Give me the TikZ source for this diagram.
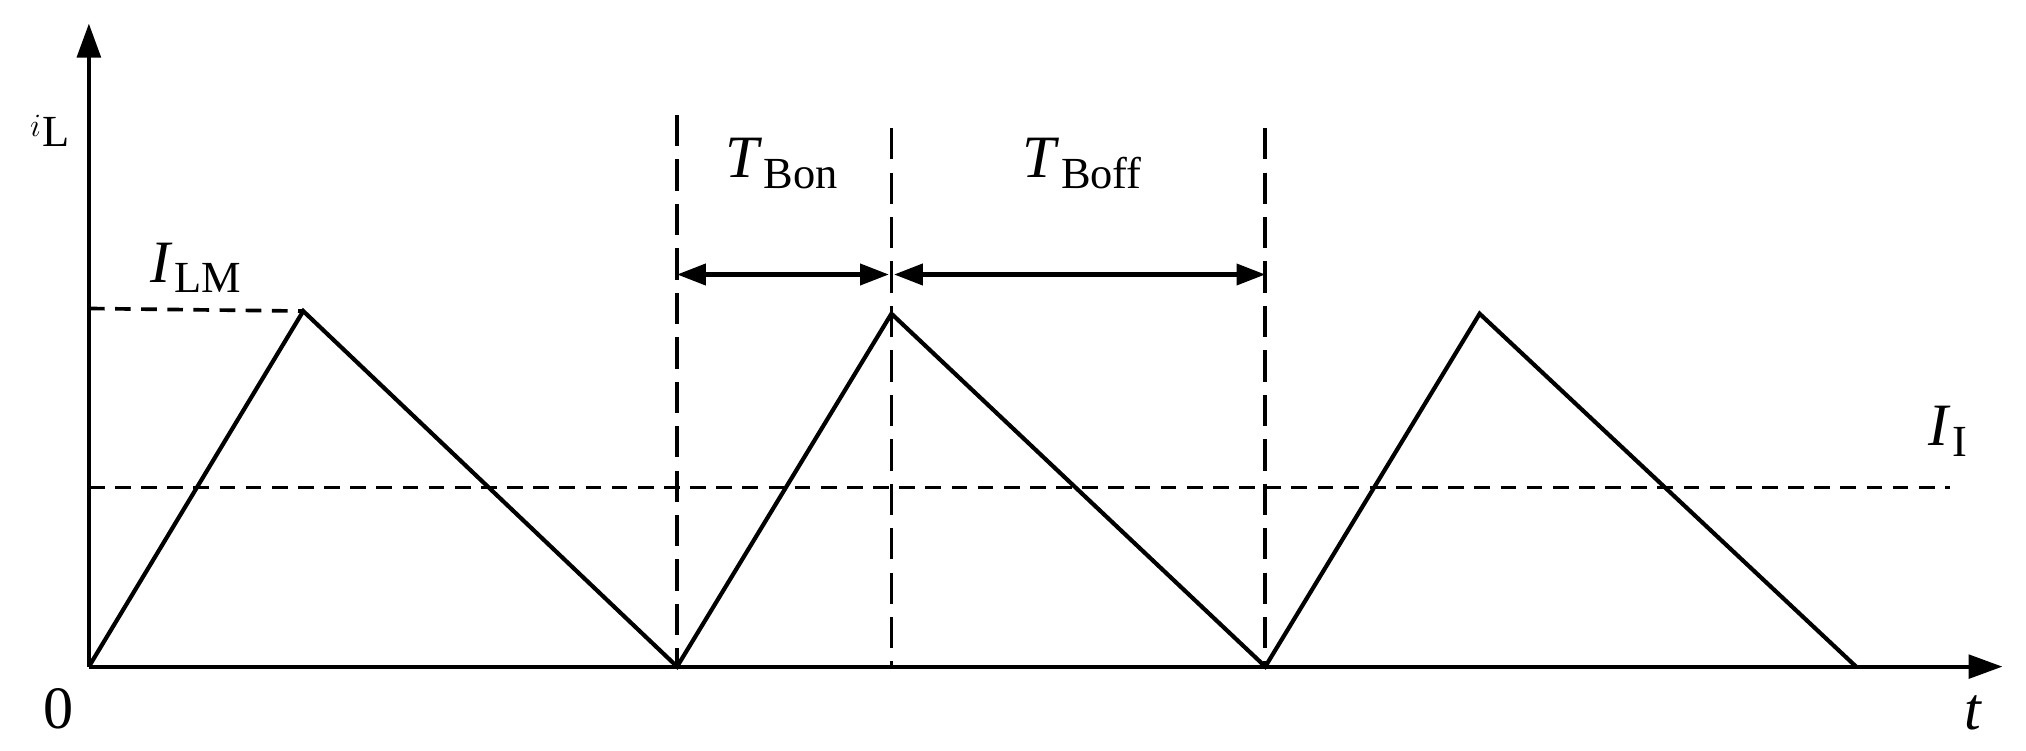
\documentclass[tikz,border=0pt]{standalone}
\usetikzlibrary{arrows.meta}
\usepackage{fontspec}
\setmainfont{Liberation Serif}
\begin{document}
\begin{tikzpicture}[x=1pt,y=-1pt,
  ln/.style={line width=3.2pt},
  dsh/.style={line width=2.8pt,dash pattern=on 12pt off 8pt},
  vd/.style={line width=2.8pt,dash pattern=on 24pt off 10pt},
  ax/.style={line width=3.2pt,-{Triangle[length=26pt,width=18pt]}},
  dim/.style={line width=3.2pt,{Triangle[length=22pt,width=16pt]}-{Triangle[length=22pt,width=16pt]}},
  lab/.style={font=\fontsize{46}{50}\selectfont}]
\useasboundingbox (0,0) rectangle (1550,574);
\coordinate (O) at (68,510);
\coordinate (Ytop) at (68,18);
\coordinate (Xend) at (1532,510);
\draw[ax] (O) -- (Ytop);
\draw[ax] (O) -- (Xend);
\coordinate (p1) at (232,238);
\coordinate (v1) at (518,510);
\coordinate (p2) at (682,240);
\coordinate (v2) at (968,510);
\coordinate (p3) at (1132,240);
\coordinate (v3) at (1420,510);
\draw[ln,line join=miter] (O) -- (p1) -- (v1) -- (p2) -- (v2) -- (p3) -- (v3);
\coordinate (lm0) at (68,236);
\draw[dsh] (lm0) -- (p1);
\coordinate (ii0) at (68,373);
\coordinate (ii1) at (1492,373);
\draw[dsh] (ii0) -- (ii1);
\coordinate (d1t) at (518,88);
\coordinate (d2t) at (682,98);
\coordinate (d3t) at (968,98);
\coordinate (d2b) at (682,510);
\draw[vd] (d1t) -- (v1);
\draw[vd] (d2t) -- (d2b);
\draw[vd] (d3t) -- (v2);
\coordinate (a1) at (518,210);
\coordinate (a2) at (680,210);
\coordinate (a3) at (684,210);
\coordinate (a4) at (968,210);
\draw[dim] (a1) -- (a2);
\draw[dim] (a3) -- (a4);
\node[lab] (iL) at (38,100) {$i$\kern1pt{\fontsize{34}{36}\selectfont\raisebox{-8pt}{L}}};
\node[lab] (ILM) at (150,205) {\textit{I}\kern1pt{\fontsize{34}{36}\selectfont\raisebox{-8pt}{LM}}};
\node[lab] (Ton) at (598,125) {\textit{T}\kern1pt{\fontsize{34}{36}\selectfont\raisebox{-8pt}{Bon}}};
\node[lab] (Toff) at (828,125) {\textit{T}\kern1pt{\fontsize{34}{36}\selectfont\raisebox{-8pt}{Boff}}};
\node[lab] (II) at (1490,330) {\textit{I}\kern1pt{\fontsize{34}{36}\selectfont\raisebox{-8pt}{I}}};
\node[lab] (zero) at (45,542) {0};
\node[lab] (t) at (1510,545) {\textit{t}};
\end{tikzpicture}
\end{document}
